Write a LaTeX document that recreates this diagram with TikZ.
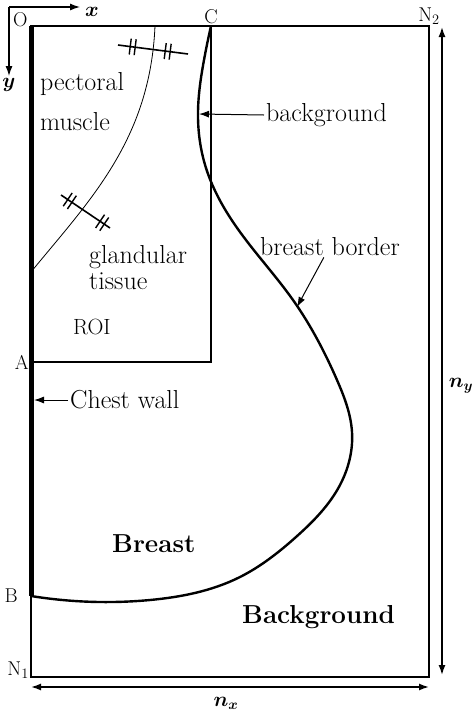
\documentclass[tikz,border=0pt]{standalone}
\usepackage{fontspec}
\usetikzlibrary{positioning,arrows.meta,decorations.markings,hobby}
\tikzset{>={Latex[length=10pt,width=7pt]}}
\newcommand{\hatchpair}{\draw[line width=1.4pt] (-2.5,-8) -- (-2.5,8) (2.5,-8) -- (2.5,8);}
\tikzset{
  txt/.style={font=\fontsize{26}{30}\selectfont,inner sep=2pt},
  ltr/.style={font=\fontsize{20}{22}\selectfont,inner sep=1pt},
  axl/.style={font=\boldmath\fontsize{22}{24}\selectfont,inner sep=1pt},
  cut/.style 2 args={postaction=decorate,decoration={markings,
    mark=at position #1 with {\hatchpair},mark=at position #2 with {\hatchpair}}}
}

\begin{document}
\begin{tikzpicture}[x=1pt,y=-1pt]
\useasboundingbox (0,0) rectangle (474,713);
\coordinate (O) at (9,7);
\coordinate (xe) at (80,7);
\coordinate (ye) at (9,76);
\coordinate (T) at (31,26);
\coordinate (C) at (211,26);
\coordinate (A) at (31,362);
\coordinate (B) at (31,596);
\coordinate (N1) at (31,677);
\coordinate (N2) at (429,26);
\coordinate (bgp) at (199,114);
\coordinate (bbp) at (297,307);
\coordinate (cwp) at (34,400);
\coordinate (h1) at (118,45);
\coordinate (h2) at (188,54);
\coordinate (h3) at (61,195);
\coordinate (h4) at (110,228);
\coordinate (nyt) at (442,27);
\coordinate (nyb) at (442,675);
\coordinate (nxl) at (31,687);
\coordinate (nxr) at (429,687);

\draw[line width=1.5pt] (N1) rectangle (N2);
\draw[line width=1.3pt] (A) -| (C);
\draw[line width=5pt] (T) -- (B);
\draw[line width=0.8pt] (155,26) .. controls (150,140) and (90,200) .. (31,272);
\draw[line width=2.4pt,use Hobby shortcut] (C) .. (204,60) .. (198,112) .. (206,168) .. (240,232) .. (293,300) .. (337,380) .. (352,432) .. (340,485) .. (296,537) .. (240,577) .. (150,600) .. (B);
\draw[line width=1.6pt,cut={0.21}{0.71}] (h1) -- (h2);
\draw[line width=1.6pt,cut={0.18}{0.84}] (h3) -- (h4);

\draw[->,line width=1.2pt] (O) -- (xe);
\draw[->,line width=1.2pt] (O) -- (ye);
\node[ltr,below right=4pt and 3pt of O] (lO) {O};
\node[axl,inner sep=0pt,anchor=west] (lx) at (85,12) {$x$};
\node[axl,below=1pt of ye] (ly) {$y$};
\node[ltr,above=1pt of C] (lC) {C};
\node[ltr,above=0pt of N2] (lN2) {N$_2$};
\node[ltr,left=1pt of A] (lA) {A};
\node[ltr,left=12pt of B] (lB) {B};
\node[ltr,above left=-3pt and 1pt of N1] (lN1) {N$_1$};

\node[txt,anchor=base west] (pm) at (38,90) {pectoral};
\node[txt,anchor=base west] (mu) at ([yshift=-40pt]pm.base west) {muscle};
\node[txt,anchor=base west] (gl) at (87,263) {glandular};
\node[txt,anchor=base west] (ts) at ([yshift=-26pt]gl.base west) {tissue};
\node[txt,anchor=base west,font=\fontsize{22}{26}\selectfont] (roi) at (71,334) {ROI};
\node[txt,anchor=west] (bg) at (264,115) {background};
\node[txt,anchor=base west] (bb) at (258,255) {breast border};
\node[txt,anchor=west] (cw) at (68,400) {Chest wall};
\node[txt,anchor=base west] (br) at (110,552) {\bfseries Breast};
\node[txt,anchor=base west] (bk) at (240,623) {\bfseries Background};

\draw[->,line width=1pt] (bg.west) -- (bgp);
\draw[->,line width=1pt] (bb) -- (bbp);
\draw[->,line width=1pt] (cw.west) -- (cwp);

\draw[<->,line width=1.5pt] (nyt) -- (nyb);
\draw[<->,line width=1.5pt] (nxl) -- (nxr);
\node[axl] (lny) at (461,386) {$n_y$};
\node[axl] (lnx) at (226,703) {$n_x$};
\end{tikzpicture}
\end{document}
